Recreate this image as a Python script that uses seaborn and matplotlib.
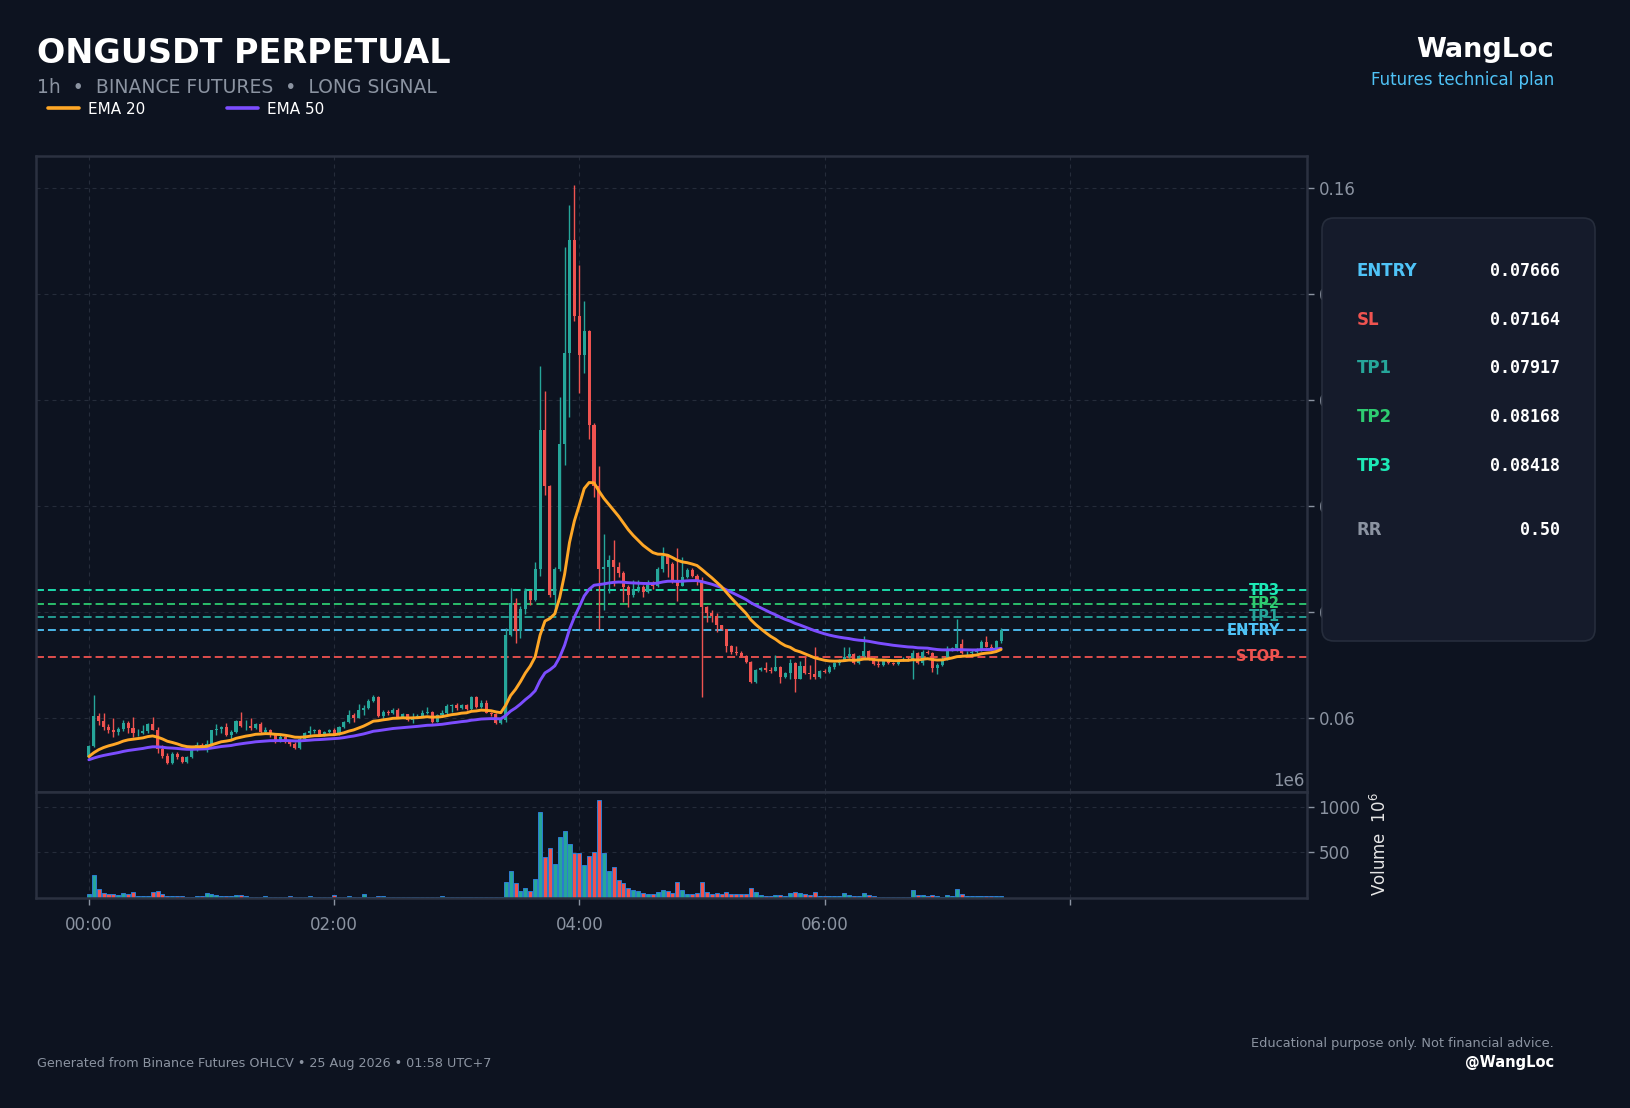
import matplotlib
matplotlib.use("Agg")
import matplotlib.pyplot as plt
import seaborn as sns
import pandas as pd
from matplotlib.lines import Line2D
from matplotlib.patches import FancyBboxPatch
from matplotlib.ticker import FormatStrFormatter

# ---- colours ----
BG = "#0d1320"
PANEL = "#151b2b"
GRID = "#252c3a"
SPINE = "#2b3140"
MUTED = "#8b93a1"
UP = "#26a69a"
DOWN = "#ef5350"
EMA20_C = "#ffa726"
EMA50_C = "#7c4dff"

# ---- data ----
first_open = 0.0527

closes = [
    0.0548, 0.0604, 0.0595, 0.0584, 0.0578, 0.0574, 0.0581, 0.0592, 0.0582, 0.0572,
    0.0572, 0.0577, 0.0589, 0.0579, 0.0543, 0.0529, 0.0516, 0.0533, 0.0527, 0.0518,
    0.0528, 0.0541, 0.0550, 0.0547, 0.0552, 0.0578, 0.0581, 0.0584, 0.0569, 0.0575,
    0.0596, 0.0585, 0.0586, 0.0582, 0.0589, 0.0575, 0.0579, 0.0569, 0.0560, 0.0565,
    0.0556, 0.0552, 0.0545, 0.0562, 0.0572, 0.0577, 0.0579, 0.0569, 0.0575, 0.0578,
    0.0570, 0.0584, 0.0594, 0.0606, 0.0600, 0.0616, 0.0619, 0.0633, 0.0641, 0.0604,
    0.0613, 0.0610, 0.0616, 0.0603, 0.0608, 0.0597, 0.0603, 0.0605, 0.0610, 0.0613,
    0.0594, 0.0606, 0.0610, 0.0623, 0.0625, 0.0619, 0.0626, 0.0617, 0.0640, 0.0621,
    0.0630, 0.0611, 0.0608, 0.0592, 0.0597, 0.0758, 0.0818, 0.0765, 0.0807, 0.0840,
    0.0823, 0.0882, 0.1145, 0.1038, 0.0833, 0.0882, 0.1117, 0.1290, 0.1502, 0.1360,
    0.1286, 0.1330, 0.1153, 0.1039, 0.0882, 0.0885, 0.0898, 0.0885, 0.0875, 0.0848,
    0.0833, 0.0844, 0.0848, 0.0839, 0.0852, 0.0849, 0.0882, 0.0906, 0.0892, 0.0861,
    0.0850, 0.0866, 0.0880, 0.0868, 0.0861, 0.0811, 0.0798, 0.0793, 0.0776, 0.0768,
    0.0736, 0.0726, 0.0724, 0.0718, 0.0707, 0.0669, 0.0692, 0.0695, 0.0692, 0.0690,
    0.0697, 0.0678, 0.0686, 0.0705, 0.0675, 0.0699, 0.0685, 0.0683, 0.0678, 0.0690,
    0.0688, 0.0697, 0.0704, 0.0710, 0.0716, 0.0721, 0.0704, 0.0718, 0.0728, 0.0713,
    0.0702, 0.0700, 0.0710, 0.0705, 0.0703, 0.0710, 0.0713, 0.0710, 0.0723, 0.0704,
    0.0726, 0.0723, 0.0696, 0.0701, 0.0713, 0.0729, 0.0732, 0.0740, 0.0723, 0.0724,
    0.0726, 0.0729, 0.0745, 0.0735, 0.0732, 0.0746, 0.0767,
]

highs = [
    0.0550, 0.0644, 0.0611, 0.0611, 0.0590, 0.0600, 0.0584, 0.0598, 0.0596, 0.0603,
    0.0581, 0.0587, 0.0592, 0.0602, 0.0584, 0.0550, 0.0534, 0.0537, 0.0537, 0.0530,
    0.0530, 0.0547, 0.0556, 0.0554, 0.0559, 0.0579, 0.0589, 0.0586, 0.0591, 0.0578,
    0.0598, 0.0613, 0.0597, 0.0600, 0.0592, 0.0594, 0.0583, 0.0580, 0.0572, 0.0568,
    0.0567, 0.0557, 0.0555, 0.0565, 0.0575, 0.0586, 0.0581, 0.0580, 0.0577, 0.0580,
    0.0582, 0.0586, 0.0596, 0.0616, 0.0610, 0.0628, 0.0625, 0.0636, 0.0644, 0.0642,
    0.0615, 0.0616, 0.0619, 0.0619, 0.0610, 0.0609, 0.0610, 0.0608, 0.0616, 0.0621,
    0.0614, 0.0608, 0.0616, 0.0627, 0.0627, 0.0630, 0.0627, 0.0628, 0.0642, 0.0642,
    0.0635, 0.0634, 0.0613, 0.0611, 0.0600, 0.0771, 0.0846, 0.0827, 0.0812, 0.0846,
    0.0843, 0.0895, 0.1265, 0.1218, 0.1040, 0.0885, 0.1206, 0.1489, 0.1569, 0.1606,
    0.1456, 0.1387, 0.1332, 0.1158, 0.1077, 0.0947, 0.0908, 0.0937, 0.0895, 0.0879,
    0.0852, 0.0861, 0.0862, 0.0851, 0.0862, 0.0860, 0.0886, 0.0923, 0.0911, 0.0895,
    0.0921, 0.0904, 0.0883, 0.0883, 0.0872, 0.0867, 0.0813, 0.0805, 0.0798, 0.0777,
    0.0768, 0.0738, 0.0737, 0.0727, 0.0720, 0.0708, 0.0694, 0.0697, 0.0707, 0.0697,
    0.0719, 0.0699, 0.0688, 0.0713, 0.0707, 0.0709, 0.0716, 0.0700, 0.0735, 0.0692,
    0.0693, 0.0700, 0.0706, 0.0712, 0.0735, 0.0734, 0.0723, 0.0720, 0.0755, 0.0730,
    0.0716, 0.0713, 0.0712, 0.0712, 0.0707, 0.0712, 0.0716, 0.0715, 0.0730, 0.0725,
    0.0729, 0.0729, 0.0726, 0.0704, 0.0715, 0.0736, 0.0734, 0.0787, 0.0749, 0.0727,
    0.0729, 0.0732, 0.0748, 0.0755, 0.0741, 0.0748, 0.0770,
]

lows = [
    0.0523, 0.0546, 0.0587, 0.0579, 0.0573, 0.0565, 0.0569, 0.0577, 0.0572, 0.0565,
    0.0566, 0.0570, 0.0572, 0.0578, 0.0534, 0.0525, 0.0515, 0.0515, 0.0523, 0.0516,
    0.0516, 0.0525, 0.0539, 0.0545, 0.0537, 0.0548, 0.0569, 0.0572, 0.0567, 0.0561,
    0.0572, 0.0584, 0.0579, 0.0578, 0.0581, 0.0572, 0.0572, 0.0565, 0.0553, 0.0556,
    0.0553, 0.0548, 0.0543, 0.0542, 0.0561, 0.0566, 0.0573, 0.0567, 0.0566, 0.0573,
    0.0569, 0.0569, 0.0582, 0.0592, 0.0594, 0.0600, 0.0606, 0.0617, 0.0631, 0.0602,
    0.0601, 0.0607, 0.0608, 0.0602, 0.0602, 0.0596, 0.0591, 0.0600, 0.0603, 0.0609,
    0.0592, 0.0593, 0.0604, 0.0608, 0.0613, 0.0616, 0.0617, 0.0616, 0.0615, 0.0619,
    0.0620, 0.0610, 0.0605, 0.0590, 0.0590, 0.0594, 0.0755, 0.0742, 0.0752, 0.0797,
    0.0814, 0.0822, 0.0869, 0.1021, 0.0830, 0.0797, 0.0879, 0.1078, 0.1169, 0.1349,
    0.1213, 0.1252, 0.1127, 0.1018, 0.0768, 0.0804, 0.0836, 0.0849, 0.0866, 0.0820,
    0.0810, 0.0830, 0.0838, 0.0830, 0.0836, 0.0845, 0.0848, 0.0877, 0.0867, 0.0855,
    0.0822, 0.0849, 0.0865, 0.0866, 0.0852, 0.0641, 0.0782, 0.0782, 0.0763, 0.0767,
    0.0726, 0.0722, 0.0720, 0.0716, 0.0704, 0.0666, 0.0667, 0.0690, 0.0688, 0.0685,
    0.0689, 0.0667, 0.0676, 0.0675, 0.0650, 0.0675, 0.0684, 0.0675, 0.0675, 0.0677,
    0.0686, 0.0686, 0.0694, 0.0701, 0.0708, 0.0714, 0.0702, 0.0702, 0.0716, 0.0711,
    0.0700, 0.0697, 0.0699, 0.0703, 0.0700, 0.0701, 0.0708, 0.0708, 0.0675, 0.0702,
    0.0701, 0.0721, 0.0688, 0.0684, 0.0699, 0.0711, 0.0727, 0.0728, 0.0721, 0.0720,
    0.0722, 0.0724, 0.0727, 0.0734, 0.0729, 0.0730, 0.0743,
]

# volume in millions
volumes = [
    37, 254, 93, 48, 37, 37, 30, 48, 37, 60,
    22, 22, 22, 60, 75, 37, 22, 15, 15, 15,
    8, 8, 15, 15, 48, 41, 26, 15, 15, 15,
    26, 26, 15, 6, 6, 8, 19, 6, 6, 5,
    5, 19, 6, 6, 8, 19, 6, 5, 5, 6,
    26, 12, 12, 15, 11, 12, 41, 8, 8, 15,
    15, 6, 5, 5, 5, 6, 5, 5, 5, 6,
    5, 5, 19, 6, 5, 5, 5, 5, 5, 5,
    5, 5, 5, 5, 5, 168, 298, 160, 78, 108,
    74, 211, 944, 444, 544, 367, 667, 733, 589, 496,
    489, 356, 456, 500, 1078, 489, 289, 344, 200, 167,
    111, 89, 78, 56, 44, 44, 67, 89, 78, 56,
    178, 89, 44, 44, 56, 178, 67, 44, 56, 44,
    67, 44, 44, 44, 44, 111, 67, 26, 22, 22,
    33, 33, 22, 56, 67, 56, 44, 30, 67, 19,
    15, 19, 19, 19, 56, 33, 19, 19, 56, 33,
    22, 11, 11, 11, 11, 11, 11, 11, 89, 33,
    33, 19, 33, 22, 11, 33, 22, 100, 44, 22,
    22, 22, 22, 22, 22, 22, 22,
]

# EMA values just before the first visible candle
ema20_seed = 0.0526
ema50_seed = 0.0521

tick_pos = [0, 50, 100, 150, 200]
tick_labels = ["00:00", "02:00", "04:00", "06:00", ""]

level_names = ["TP3", "TP2", "TP1", "ENTRY", "STOP"]
level_prices = [0.08418, 0.08168, 0.07917, 0.07666, 0.07164]
level_colors = ["#1de9b6", "#2ecc71", "#26a69a", "#4fc3f7", "#ef5350"]

panel_names = ["ENTRY", "SL", "TP1", "TP2", "TP3"]
panel_values = [0.07666, 0.07164, 0.07917, 0.08168, 0.08418]
panel_colors = ["#4fc3f7", "#ef5350", "#26a69a", "#2ecc71", "#1de9b6"]
rr_value = 0.50


def ema(values, span, seed):
    a = 2.0 / (span + 1)
    out, prev = [], seed
    for v in values:
        prev = a * v + (1 - a) * prev
        out.append(prev)
    return out


n = len(closes)
df = pd.DataFrame({
    "x": range(n),
    "open": [first_open] + closes[:-1],
    "close": closes,
    "high": highs,
    "low": lows,
    "volume": volumes,
})
df["ema20"] = ema(closes, 20, ema20_seed)
df["ema50"] = ema(closes, 50, ema50_seed)
df["color"] = [UP if c >= o else DOWN for o, c in zip(df["open"], df["close"])]
df["body_lo"] = df[["open", "close"]].min(axis=1)
df["body_h"] = (df["close"] - df["open"]).abs().clip(lower=0.00008)

sns.set_theme(style="dark", rc={
    "figure.facecolor": BG,
    "axes.facecolor": BG,
    "axes.edgecolor": SPINE,
    "savefig.facecolor": BG,
})
plt.rcParams["font.family"] = ["DejaVu Sans"]

W, H = 1631, 1108
fig = plt.figure(figsize=(W / 100, H / 100), dpi=100)

ax = fig.add_axes([36.4 / W, 1 - 791.6 / H, 1270.2 / W, 635.6 / H])
axv = fig.add_axes([36.4 / W, 1 - 897.7 / H, 1270.2 / W, 106.1 / H], sharex=ax)

grid_kw = dict(color=GRID, linestyle=(0, (3.6, 3.6)), linewidth=0.8)
for a in (ax, axv):
    a.set_facecolor(BG)
    for s in a.spines.values():
        s.set_color(SPINE)
        s.set_linewidth(1.8)
    a.grid(True, **grid_kw)
    a.set_axisbelow(True)

# candles
ax.vlines(df["x"], df["low"], df["high"], colors=df["color"], linewidth=1, zorder=2)
ax.bar(df["x"], df["body_h"], bottom=df["body_lo"], width=0.62,
       color=df["color"], linewidth=0, zorder=3)

# EMAs
sns.lineplot(data=df, x="x", y="ema20", ax=ax, color=EMA20_C, linewidth=2.1, zorder=5)
sns.lineplot(data=df, x="x", y="ema50", ax=ax, color=EMA50_C, linewidth=2.1, zorder=4)

# trade levels
for name, price, col in zip(level_names, level_prices, level_colors):
    ax.axhline(price, color=col, linestyle=(0, (4.4, 2.2)), linewidth=1.3, zorder=1.5)
    ax.text(0.979, price, name, transform=ax.get_yaxis_transform(), ha="right",
            va="center", color=col, fontsize=10.5, fontweight="bold", zorder=6)

ax.set_xlim(-10.7, 248.3)
ax.set_ylim(0.0462, 0.1661)
ax.set_yticks([0.06, 0.08, 0.10, 0.12, 0.14, 0.16])
ax.yaxis.set_major_formatter(FormatStrFormatter("%.2f"))
ax.yaxis.tick_right()
ax.tick_params(axis="y", colors=MUTED, labelsize=12, length=5, width=1, right=True)
ax.tick_params(axis="x", length=0, labelbottom=False)
ax.set_xlabel("")
ax.set_ylabel("")

# volume
axv.bar(df["x"], df["volume"], width=0.82, color=df["color"],
        edgecolor="#2d7dd2", linewidth=0.7, zorder=2)
axv.set_ylim(0, 1170)
axv.set_yticks([500, 1000])
axv.set_yticklabels(["500", "1000"])
axv.yaxis.tick_right()
axv.yaxis.set_label_position("right")
axv.set_ylabel("Volume  $10^6$", color="#e6e6e6", fontsize=12, labelpad=7)
axv.tick_params(axis="y", colors=MUTED, labelsize=12, length=5, width=1, right=True)
axv.set_xticks(tick_pos)
axv.set_xticklabels(tick_labels)
axv.tick_params(axis="x", colors=MUTED, labelsize=12, length=5, width=1, bottom=True, pad=8)
axv.set_xlabel("")
axv.text(0.998, 1.10, "1e6", transform=axv.transAxes, ha="right", va="center",
         color=MUTED, fontsize=12)

# header
fig.text(37 / W, 1 - 63 / H, "ONGUSDT PERPETUAL", color="white", fontsize=24,
         fontweight="bold", va="baseline", ha="left")
fig.text(37 / W, 1 - 93 / H, "1h  \u2022  BINANCE FUTURES  \u2022  LONG SIGNAL",
         color=MUTED, fontsize=13.5, va="baseline", ha="left")
fig.text(1554 / W, 1 - 57 / H, "WangLoc", color="white", fontsize=19.5,
         fontweight="bold", va="baseline", ha="right")
fig.text(1554 / W, 1 - 85 / H, "Futures technical plan", color="#4fc3f7",
         fontsize=12, va="baseline", ha="right")

handles = [Line2D([], [], color=EMA20_C, linewidth=2.6),
           Line2D([], [], color=EMA50_C, linewidth=2.6)]
fig.legend(handles, ["EMA 20", "EMA 50"], loc="center left",
           bbox_to_anchor=(48 / W, 1 - 109 / H), ncol=2, frameon=False,
           fontsize=11, labelcolor="white", handlelength=2.0, columnspacing=5.4,
           borderpad=0, borderaxespad=0, handletextpad=0.6)

# plan panel
panel = FancyBboxPatch((13.22, (H - 641) / 100), 2.73, 4.23,
                       boxstyle="round,pad=0,rounding_size=0.12",
                       transform=fig.dpi_scale_trans, facecolor=PANEL,
                       edgecolor="#262d3c", linewidth=1.2, zorder=1)
fig.add_artist(panel)

row_y = [271, 320, 368, 417, 466]
for name, val, col, yy in zip(panel_names, panel_values, panel_colors, row_y):
    fig.text(1357 / W, 1 - yy / H, name, color=col, fontsize=12,
             fontweight="bold", va="center", ha="left", zorder=3)
    fig.text(1560 / W, 1 - yy / H, f"{val:.5f}", color="white", fontsize=12,
             fontweight="bold", family="DejaVu Sans Mono", va="center",
             ha="right", zorder=3)
fig.text(1357 / W, 1 - 530 / H, "RR", color=MUTED, fontsize=12,
         fontweight="bold", va="center", ha="left", zorder=3)
fig.text(1560 / W, 1 - 530 / H, f"{rr_value:.2f}", color="white", fontsize=12,
         fontweight="bold", family="DejaVu Sans Mono", va="center", ha="right",
         zorder=3)

# footer
fig.text(37 / W, 1 - 1064 / H,
         "Generated from Binance Futures OHLCV \u2022 25 Aug 2026 \u2022 01:58 UTC+7",
         color=MUTED, fontsize=9.2, va="center", ha="left")
fig.text(1554 / W, 1 - 1043 / H, "Educational purpose only. Not financial advice.",
         color=MUTED, fontsize=9.3, va="center", ha="right")
fig.text(1554 / W, 1 - 1063 / H, "@WangLoc", color="white", fontsize=10.5,
         fontweight="bold", va="center", ha="right")

fig.savefig("out.png", dpi=100, facecolor=BG)
plt.close(fig)
